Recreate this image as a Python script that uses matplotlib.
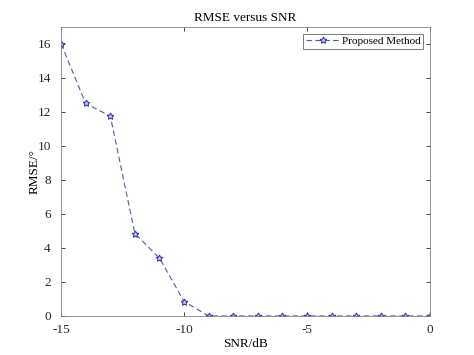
import numpy as np
import matplotlib
matplotlib.use("Agg")
import matplotlib.pyplot as plt

plt.rcParams["font.family"] = ["Liberation Serif", "DejaVu Serif"]
plt.rcParams["axes.unicode_minus"] = False

snr = [-15, -14, -13, -12, -11, -10, -9, -8, -7, -6, -5, -4, -3, -2, -1, 0]
rmse = [16.0, 12.5, 11.75, 4.85, 3.4, 0.85, 0, 0, 0, 0, 0, 0, 0, 0, 0, 0]

fig = plt.figure(figsize=(4.74, 3.55), dpi=100)
ax = fig.add_axes([0.129, 0.11, 0.778, 0.814])

ax.plot(snr, rmse, linestyle="--", dashes=(5, 3), lw=0.8, color="#5a5a9a",
        marker=(5, 1, 0), ms=5, mec="#2a2ab8", mfc="#c8c8f0", mew=0.7,
        label="Proposed Method")

ax.set_xlim(-15, 0)
ax.set_ylim(0, 17)
ax.set_xticks([-15, -10, -5, 0])
ax.set_yticks(range(0, 17, 2))

ax.set_title("RMSE versus SNR", fontsize=9.5, pad=4)
ax.set_xlabel("SNR/dB", fontsize=9.5, labelpad=2)
ax.set_ylabel("RMSE/°", fontsize=9.5)
ax.yaxis.set_label_coords(-0.057, 0.5)

ax.tick_params(direction="in", top=True, right=True, labelsize=9.5,
               length=3, width=0.6, colors="#262626")
ax.tick_params(axis="y", pad=7.5)
ax.tick_params(axis="x", pad=5.5)
for s in ax.spines.values():
    s.set_linewidth(0.6)
    s.set_color("#808080")

leg = ax.legend(loc="upper right", fontsize=8, frameon=True, fancybox=False,
                handlelength=3.0, handletextpad=0.2, borderpad=0.25,
                borderaxespad=0.6)
leg.get_frame().set_edgecolor("#404040")
leg.get_frame().set_linewidth(0.6)

fig.savefig("out.png", dpi=100)
